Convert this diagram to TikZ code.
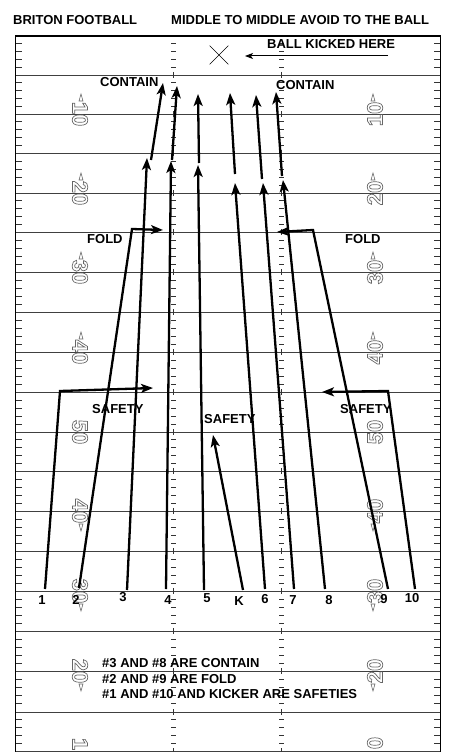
\documentclass[tikz,border=0pt]{standalone}
\usepackage{fontspec}
\setmainfont{Liberation Sans}
\usetikzlibrary{arrows.meta,shapes.misc}
\newcommand{\outl}[1]{\special{pdf:literal direct 1 Tr 0.7 w}#1\special{pdf:literal direct 0 Tr}}
\begin{document}
\begin{tikzpicture}[x=1pt,y=-1pt,
  lbl/.style={font=\fontsize{13}{15}\selectfont\bfseries, inner sep=0pt, anchor=west},
  num/.style={font=\fontsize{13}{15}\selectfont\bfseries, inner sep=0pt},
  route/.style={line width=2.3pt, -{Stealth[length=12pt,width=9pt,inset=3pt]}},
  yardline/.style={line width=0.9pt, draw=black!75},
  border/.style={line width=1.8pt},
  tick/.style={line width=0.7pt, draw=black!80},
  yardnum/.style={font=\fontsize{22}{22}\selectfont\bfseries, text=black!60, inner sep=0pt},
  yardarrow/.style={draw=black!60, line width=0.6pt},
]
\useasboundingbox (0,0) rectangle (450,752);
\clip (0,0) rectangle (450,752);
% field border
\draw[border] (15.5,752) -- (15.5,36) -- (440.5,36) -- (440.5,752);
% yard lines
\foreach \y in {75,114,153,193,232,272,312,352,392,432,471,511,551,591,631,671,712,751}
  \draw[yardline] (16,\y) -- (440,\y);
% ticks
\foreach \a/\b in {36/75,75/114,114/153,153/193,193/232,232/272,272/312,312/352,352/392,392/432,432/471,471/511,511/551,551/591,591/631,631/671,671/712,712/751}{
  \foreach \k in {1,2,3,4}{
    \pgfmathsetmacro\yy{\a+\k*(\b-\a)/5}
    \draw[tick] (16,\yy) -- (22,\yy);
    \draw[tick] (434,\yy) -- (440,\yy);
    \draw[tick] (171,\yy) -- (176,\yy);
    \draw[tick] (279,\yy) -- (284,\yy);
  }
  \draw[tick] (173.5,\b-3) -- (173.5,\b+3);
  \draw[tick] (281,\b-3) -- (281,\b+3);
}
% yard numbers
\foreach \y/\t in {114/10,193/20,272/30,352/40,432/50,511/40,591/30,671/20}{
  \node[yardnum, rotate=-90] at (80,\y) {\outl{\t}};
  \node[yardnum, rotate=90] at (375,\y) {\outl{\t}};
}
% partly visible numbers at the bottom edge
\node[yardnum, rotate=-90] (ybl) at (80,744) {\outl{1}};
\node[yardnum, rotate=90] (ybr) at (375,743) {\outl{0}};
\foreach \y in {114,193,272,352}{
  \draw[yardarrow] (79,\y-13) -- (81,\y-20) -- (83,\y-13) -- cycle;
  \draw[yardarrow] (371,\y-13) -- (373,\y-20) -- (375,\y-13) -- cycle;
}
\foreach \y in {511,591,671}{
  \draw[yardarrow] (79,\y+13) -- (81,\y+20) -- (83,\y+13) -- cycle;
  \draw[yardarrow] (371,\y+13) -- (373,\y+20) -- (375,\y+13) -- cycle;
}
% titles
\node[lbl] (title1) at (13,20) {BRITON FOOTBALL};
\node[lbl] (title2) at (171,20) {MIDDLE TO MIDDLE AVOID TO THE BALL};
% ball
\node[draw, cross out, line width=0.6pt, minimum width=18pt, minimum height=18pt, inner sep=0pt] (ball) at (219,55) {};
\node[lbl] (kick) at (267,44) {BALL KICKED HERE};
\coordinate (ks) at (388,56);
\coordinate (ke) at (245,56);
\draw[line width=1pt, -{Stealth[length=8pt,width=6pt,inset=2pt]}] (ks) -- (ke);
% labels
\node[lbl] (cont1) at (100,82) {CONTAIN};
\node[lbl] (cont2) at (276,85) {CONTAIN};
\node[lbl] (fold1) at (87,239) {FOLD};
\node[lbl] (fold2) at (345,239) {FOLD};
\node[lbl] (saf1) at (92,409) {SAFETY};
\node[lbl] (saf2) at (204,419) {SAFETY};
\node[lbl] (saf3) at (340,409) {SAFETY};
\node[lbl] (n1) at (102,663) {\#3 AND \#8 ARE CONTAIN};
\node[lbl] (n2) at (102,679) {\#2 AND \#9 ARE FOLD};
\node[lbl] (n3) at (102,694) {\#1 AND \#10 AND KICKER ARE SAFETIES};
% player labels
\node[num] (l1) at (42,600) {1};
\node[num] (l2) at (76,600) {2};
\node[num] (l3) at (123,597) {3};
\node[num] (l4) at (168,600) {4};
\node[num] (l5) at (207,598) {5};
\node[num] (lK) at (239,601) {K};
\node[num] (l6) at (265,599) {6};
\node[num] (l7) at (293,600) {7};
\node[num] (l8) at (329,600) {8};
\node[num] (l9) at (384,599) {9};
\node[num] (l10) at (412,598) {10};
% route points
\coordinate (p1) at (45,589);  \coordinate (c1) at (60,391);  \coordinate (t1) at (153,388);
\coordinate (p2) at (79,588);  \coordinate (c2) at (132,229); \coordinate (t2) at (163,230);
\coordinate (p3) at (127,590); \coordinate (m3) at (147,158); \coordinate (s3) at (151,160); \coordinate (t3) at (163,83);
\coordinate (p4) at (166,589); \coordinate (m4) at (171,161); \coordinate (s4) at (172,160); \coordinate (t4) at (177,86);
\coordinate (p5) at (204,590); \coordinate (m5) at (198,165); \coordinate (s5) at (199,163); \coordinate (t5) at (198,94);
\coordinate (pK) at (243,590); \coordinate (tK) at (213,435);
\coordinate (p6) at (265,589); \coordinate (m6) at (235,183); \coordinate (s6) at (235,174); \coordinate (t6) at (230,93);
\coordinate (p7) at (294,589); \coordinate (m7) at (263,183); \coordinate (s7) at (262,179); \coordinate (t7) at (256,95);
\coordinate (p8) at (325,589); \coordinate (m8) at (283,180); \coordinate (s8) at (282,176); \coordinate (t8) at (276,92);
\coordinate (p9) at (388,589); \coordinate (c9) at (313,230); \coordinate (t9) at (277,232);
\coordinate (p10) at (415,589); \coordinate (c10) at (388,391); \coordinate (t10) at (322,392);
% routes
\draw[route] (p1) -- (c1) -- (t1);
\draw[route] (p2) -- (c2) -- (t2);
\draw[route] (p3) -- (m3);
\draw[route] (s3) -- (t3);
\draw[route] (p4) -- (m4);
\draw[route] (s4) -- (t4);
\draw[route] (p5) -- (m5);
\draw[route] (s5) -- (t5);
\draw[route] (pK) -- (tK);
\draw[route] (p6) -- (m6);
\draw[route] (s6) -- (t6);
\draw[route] (p7) -- (m7);
\draw[route] (s7) -- (t7);
\draw[route] (p8) -- (m8);
\draw[route] (s8) -- (t8);
\draw[route] (p9) -- (c9) -- (t9);
\draw[route] (p10) -- (c10) -- (t10);
\end{tikzpicture}
\end{document}
